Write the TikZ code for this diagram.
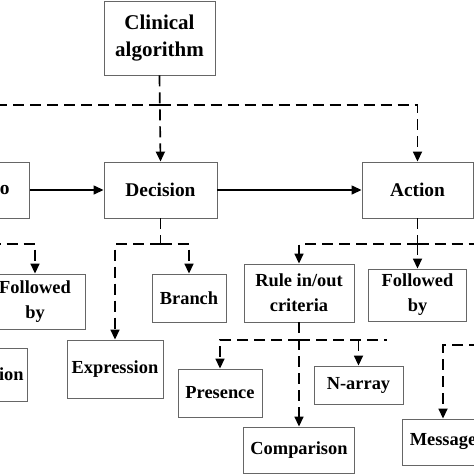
\documentclass[tikz,border=0pt]{standalone}
\usepackage{fontspec}
\setmainfont{Liberation Serif}
\usetikzlibrary{arrows.meta}

\tikzset{
    box/.style={draw=black!60, line width=0.9pt, fill=white, align=center, inner sep=0pt,
        font=\fontsize{18.4}{25}\selectfont\bfseries},
    big/.style={font=\fontsize{19.4}{25}\selectfont\bfseries},
    link/.style={line width=1.7pt, dash pattern=on 11pt off 6pt},
    flow/.style={line width=1.4pt},
    tip/.style={-{Triangle[length=10pt, width=9pt]}},
}

\begin{document}
\begin{tikzpicture}[x=1pt, y=-1pt]
    \clip (0,0) rectangle (474,474);

    % top
    \node[box, minimum width=111pt, minimum height=74pt, font=\fontsize{21}{27}\selectfont\bfseries] (clin) at (159.5,38) {Clinical\\algorithm};

    % main row
    \node[box, big, anchor=east, text width=40pt, align=right, inner xsep=20pt, minimum height=56pt] (prev) at (30,190) {o};
    \node[box, big, minimum width=113pt, minimum height=56pt] (dec) at (160.5,190) {Decision};
    \node[box, big, minimum width=111pt, minimum height=56pt] (act) at (417.5,190) {Action};

    % under decision
    \node[box, minimum width=100pt, minimum height=55pt] (fol1) at (35,301.5) {Followed\\by};
    \node[box, minimum width=74pt, minimum height=48pt] (branch) at (189,298) {Branch};
    \node[box, minimum width=96pt, minimum height=58pt] (expr) at (115,369) {Expression};
    \node[box, anchor=east, text width=60pt, align=right, inner xsep=4pt, minimum height=53pt] (cond) at (28,374.5) {ion};

    % under action
    \node[box, minimum width=110pt, minimum height=58pt] (rule) at (299,293) {Rule in/out\\criteria};
    \node[box, minimum width=98pt, minimum height=52pt] (fol2) at (417.5,295) {Followed\\by};
    \node[box, minimum width=84pt, minimum height=48pt] (pres) at (220,393) {Presence};
    \node[box, minimum width=89pt, minimum height=38pt] (narr) at (358.5,385) {N-array};
    \node[box, minimum width=111pt, minimum height=46pt] (comp) at (299,450) {Comparison};
    \node[box, minimum width=81pt, minimum height=46pt] (msg) at (443,442) {Message};

    % clinical algorithm
    \coordinate (hub) at (clin.south |- 0,105);
    \draw[link, tip] (clin.south) -- (dec.north);
    \draw[link, tip] (hub) -| (prev.north);
    \draw[link, tip] (hub) -| (act.north);

    % main flow
    \draw[flow, tip] (prev) -- (dec);
    \draw[flow, tip] (dec) -- (act);

    % left branch
    \coordinate (pj) at (prev.south |- 0,244);
    \draw[link] (prev.south) -- (pj);
    \draw[link, tip] (pj) -| (fol1.north);

    % decision
    \coordinate (dj) at (dec.south |- 0,244);
    \draw[link] (dec.south) -- (dj);
    \draw[link, tip] (dj) -| (expr.north);
    \draw[link, tip] (dj) -| (branch.north);

    % action
    \coordinate (aj) at (act.south |- 0,244);
    \coordinate (aend) at (480,244);
    \draw[link] (act.south) -- (aj);
    \draw[link, tip] (aj) -| (rule.north);
    \draw[link, tip] (aj) -- (fol2.north);
    \draw[link] (aj) -- (aend);

    % rule in/out
    \coordinate (rj) at (rule.south |- 0,340);
    \coordinate (rend) at (387,340);
    \draw[link, tip] (rule.south) -- (comp.north);
    \draw[link, tip] (rj) -| (pres.north);
    \draw[link] (rj) -- (rend);
    \draw[link, tip] (narr.north |- rj) -- (narr.north);

    % message
    \coordinate (mend) at (480,345);
    \draw[link, tip] (mend) -| (msg.north);
\end{tikzpicture}
\end{document}
